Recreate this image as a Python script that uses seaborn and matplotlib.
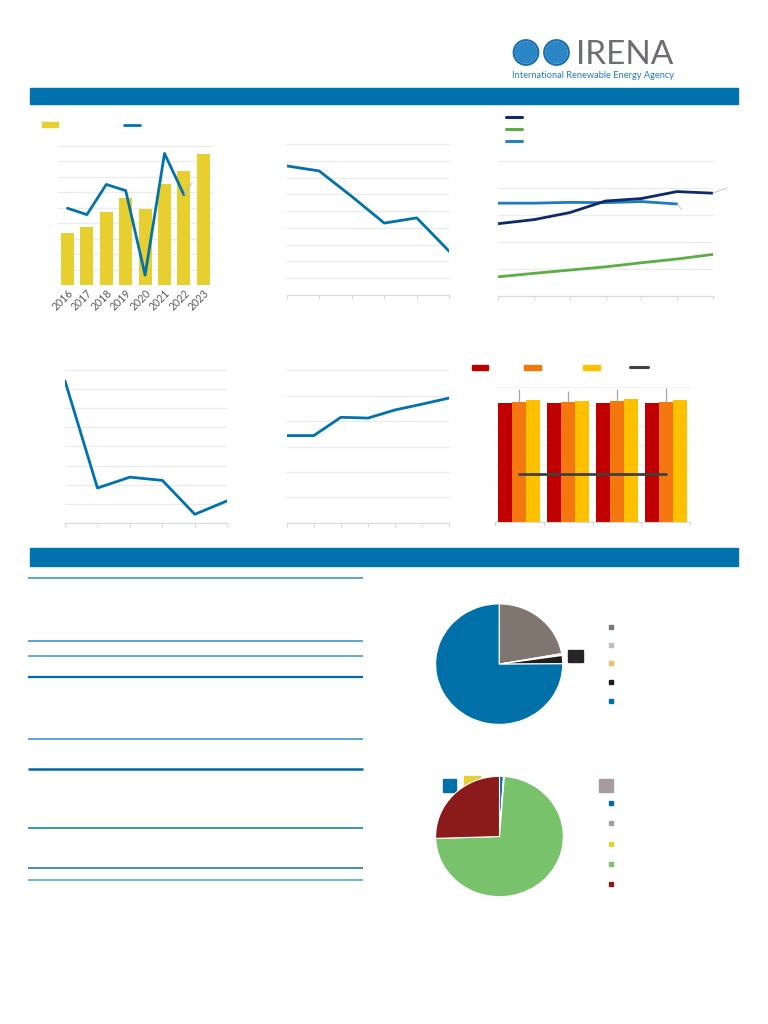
import numpy as np
import pandas as pd
import seaborn as sns
import matplotlib.pyplot as plt
from matplotlib.patches import Rectangle, Circle

W, H = 768, 1024

# chart 1: yearly bars with overlaid line
years = ['2016', '2017', '2018', '2019', '2020', '2021', '2022', '2023']
bar_vals = [3.33, 3.75, 4.7, 5.6, 4.9, 6.5, 7.4, 8.5]
line_vals = [4.96, 4.55, 6.5, 6.1, 0.64, 8.5, 5.83]

# chart 2: declining line
trend_x = [0, 1, 2, 3, 4, 5]
trend_vals = [7.7, 7.4, 5.88, 4.29, 4.6, 2.6]

# chart 3: three lines
share_x = [0, 1, 2, 3, 4, 5, 6]
navy_vals = [2.67, 2.82, 3.08, 3.51, 3.6, 3.86, 3.8]
blue_vals = [3.43, 3.43, 3.46, 3.45, 3.49, 3.40]
green_vals = [0.70, 0.83, 0.95, 1.07, 1.22, 1.36, 1.53]

# chart 4 / chart 5
drop_x = [0, 1, 2, 3, 4, 5]
drop_vals = [7.44, 1.82, 2.39, 2.22, 0.44, 1.15]
rise_x = [0, 1, 2, 3, 4, 5, 6]
rise_vals = [3.43, 3.43, 4.15, 4.12, 4.44, 4.67, 4.91]

# chart 6: grouped bars
groups = ['g1', 'g2', 'g3', 'g4']
red_vals = [6.17, 6.17, 6.19, 6.17]
orange_vals = [6.25, 6.23, 6.28, 6.25]
yellow_vals = [6.33, 6.31, 6.37, 6.33]
orange_hi = [6.91, 6.79, 6.91, 6.96]
avg_val = 2.5

# pies
pie1_vals = [22.2, 0.4, 0.1, 2.2, 75.1]
pie1_colors = ['#7F776F', '#BFBFBF', '#F9B870', '#1E1E1E', '#0070A8']
pie2_vals = [1.0, 0.1, 0.1, 73.3, 25.5]
pie2_colors = ['#0070A8', '#A59CA0', '#E5CF35', '#78C26B', '#8B1A1A']

BLUE = '#0072AE'
GRID = '#EBEBEB'
AXC = '#D9D9D9'

sns.set_style('white')
plt.rcParams['font.family'] = ['Lato', 'DejaVu Sans']

fig = plt.figure(figsize=(7.68, 10.24), dpi=100)


def px_axes(x0, y0, x1, y1, z=1):
    return fig.add_axes([x0 / W, 1 - y1 / H, (x1 - x0) / W, (y1 - y0) / H], zorder=z)


def style(ax, xlim, ylim, yticks, xticks=None):
    ax.set_xlim(*xlim)
    ax.set_ylim(*ylim)
    ax.set_yticks(yticks)
    ax.yaxis.grid(True, color=GRID, lw=0.9)
    ax.set_axisbelow(True)
    for s in ['top', 'right', 'left']:
        ax.spines[s].set_visible(False)
    ax.spines['bottom'].set_color(AXC)
    if xticks is not None:
        ax.set_xticks(xticks)
    ax.tick_params(axis='x', colors=AXC, length=3, width=0.8, direction='out', bottom=True)
    ax.tick_params(axis='y', length=0)
    ax.set_xticklabels([])
    ax.set_yticklabels([])
    ax.set_xlabel('')
    ax.set_ylabel('')


# overlay for page decoration
bg = fig.add_axes([0, 0, 1, 1], zorder=0)
bg.set_xlim(0, W)
bg.set_ylim(H, 0)
bg.axis('off')

# logo
for cx in [526, 556.5]:
    bg.add_patch(Circle((cx, 52.5), 10.5, color='#2A86C4'))
    bg.add_patch(Circle((cx, 52.5), 12.3, fill=False, ec='#1A6FAF', lw=1.6))
bg.text(576, 63.5, 'IRENA', fontsize=24, color='#6D6E71', va='baseline', ha='left')
bg.text(512, 78, 'International Renewable Energy Agency', fontsize=6.7, color='#1F7DBF',
        va='baseline', ha='left')

# banners
bg.add_patch(Rectangle((30, 88), 708, 16, color=BLUE))
bg.add_patch(Rectangle((30, 548), 708, 18, color=BLUE))

# table rules
rules = [(577.7, '#5AA5D2', 1.4), (640.7, '#5AA5D2', 1.4), (656, '#4B9CCD', 1.2),
         (676.7, '#0068A6', 1.6), (738.7, '#5AA5D2', 1.4), (768.7, '#0068A6', 1.8),
         (828.3, '#1B7DB8', 1.2), (868.3, '#1B7DB8', 1.2), (880, '#5AA5D2', 1.2)]
for y, c, lw in rules:
    bg.plot([28.3, 362.7], [y, y], color=c, lw=lw, solid_capstyle='butt')

# legend swatches
bg.add_patch(Rectangle((42, 122), 16, 5, color='#E6CF2F'))
bg.plot([124, 140], [125, 125], color=BLUE, lw=2)
for y, c in [(117, '#0D2A6B'), (129, '#5BAE44'), (141, '#2382C4')]:
    bg.plot([506, 522], [y, y], color=c, lw=2.2)
for x0, c in [(471.7, '#C00000'), (524, '#F4780F'), (583.3, '#FFC000')]:
    bg.add_patch(Rectangle((x0, 364.5), 16.5, 5, color=c))
bg.plot([630, 647.7], [366.7, 366.7], color='#404040', lw=2.2)
for y, c in zip([626.7, 645.3, 663.3, 681.7, 700.7], pie1_colors):
    bg.add_patch(Rectangle((609.3, y - 2), 4, 4, color=c))
for y, c in zip([803.3, 823.3, 844, 864, 884], pie2_colors):
    bg.add_patch(Rectangle((609, y - 2), 4, 4, color=c))
# pie label boxes
bg.add_patch(Rectangle((568.3, 650), 14.4, 11.7, color='#262626'))
bg.add_patch(Rectangle((443.3, 779), 12.4, 12.7, color='#0070A8'))
bg.add_patch(Rectangle((464.3, 775.7), 15.7, 11.6, color='#E5CF35'))
bg.add_patch(Rectangle((599, 779), 14.3, 12.7, color='#A59CA0'))

# chart 1
ax1 = px_axes(57.8, 145, 213, 285)
sns.barplot(x=years, y=bar_vals, color='#E6CF2F', width=0.68, saturation=1,
            linewidth=0, ax=ax1)
sns.lineplot(x=np.arange(len(line_vals)), y=line_vals, color=BLUE, lw=2, ax=ax1)
ax1.plot([6, 6.43], [line_vals[-1], 6.62], color='#BBBBBB', lw=0.6)
ax1.axhline(3, color='#CFCFCF', lw=0.9, zorder=0.5)
ax1.set_xlim(-0.5, 7.5)
ax1.set_ylim(0, 9.05)
ax1.set_yticks(range(10))
ax1.yaxis.grid(True, color=GRID, lw=0.9)
ax1.set_axisbelow(True)
sns.despine(ax=ax1, left=True, bottom=True)
ax1.tick_params(length=0)
ax1.set_yticklabels([])
ax1.set_xticks(range(len(years)))
ax1.set_xticklabels(years, rotation=45, ha='right', rotation_mode='anchor',
                    fontsize=7.6, color='#595959')
ax1.tick_params(axis='x', pad=2)

# chart 2
ax2 = px_axes(286.7, 143.3, 449.3, 295)
sns.lineplot(x=trend_x, y=trend_vals, color=BLUE, lw=2, ax=ax2)
style(ax2, (0, 5), (0, 9.05), range(10), range(6))

# chart 3
ax3 = px_axes(498.3, 160, 712.7, 295.7)
sns.lineplot(x=share_x, y=green_vals, color='#5BAE44', lw=2, ax=ax3)
sns.lineplot(x=share_x[:6], y=blue_vals, color='#1E7BBF', lw=2, ax=ax3)
sns.lineplot(x=share_x, y=navy_vals, color='#0D2A6B', lw=2, ax=ax3)
ax3.plot([6, 6.39], [navy_vals[-1], 3.99], color='#BBBBBB', lw=0.6, clip_on=False)
ax3.plot([5, 5.14], [blue_vals[-1], 3.19], color='#BBBBBB', lw=0.6, clip_on=False)
style(ax3, (0, 6), (0, 5.03), range(6), range(7))

# chart 4
ax4 = px_axes(65, 369.3, 227.3, 522.7)
sns.lineplot(x=drop_x, y=drop_vals, color=BLUE, lw=2, ax=ax4)
style(ax4, (0, 5), (0, 8.05), range(9), range(6))

# chart 5
ax5 = px_axes(286.7, 369.3, 449.3, 522.7)
sns.lineplot(x=rise_x, y=rise_vals, color=BLUE, lw=2, ax=ax5)
style(ax5, (0, 6), (0, 6.04), range(7), range(7))

# chart 6
df6 = pd.DataFrame({
    'group': groups * 3,
    'series': ['a'] * 4 + ['b'] * 4 + ['c'] * 4,
    'value': red_vals + orange_vals + yellow_vals,
})
ax6 = px_axes(495, 386.7, 690, 521.7)
sns.barplot(data=df6, x='group', y='value', hue='series',
            palette=['#C00000', '#F4780F', '#FFC000'], width=0.86,
            saturation=1, linewidth=0, legend=False, ax=ax6)
ax6.vlines(range(4), orange_vals, orange_hi, color='#A6A6A6', lw=0.9)
ax6.plot([0, 3], [avg_val, avg_val], color='#404040', lw=2)
style(ax6, (-0.5, 3.5), (0, 7.03), range(8), [-0.5, 0.5, 1.5, 2.5, 3.5])
ax6.yaxis.grid(True, color='#F2F2F2', lw=0.8)

# pies
for vals, cols, box in [(pie1_vals, pie1_colors, (435, 603.3, 563.3, 725)),
                        (pie2_vals, pie2_colors, (435, 775.7, 564, 897.3))]:
    axp = px_axes(*box)
    axp.pie(vals, colors=cols, startangle=90, counterclock=False,
            wedgeprops=dict(edgecolor='white', linewidth=0.8))
    axp.set_aspect('auto')
    axp.set_xlim(-1.01, 1.01)
    axp.set_ylim(-1.01, 1.01)

fig.savefig('out.png', dpi=100, facecolor='white')
